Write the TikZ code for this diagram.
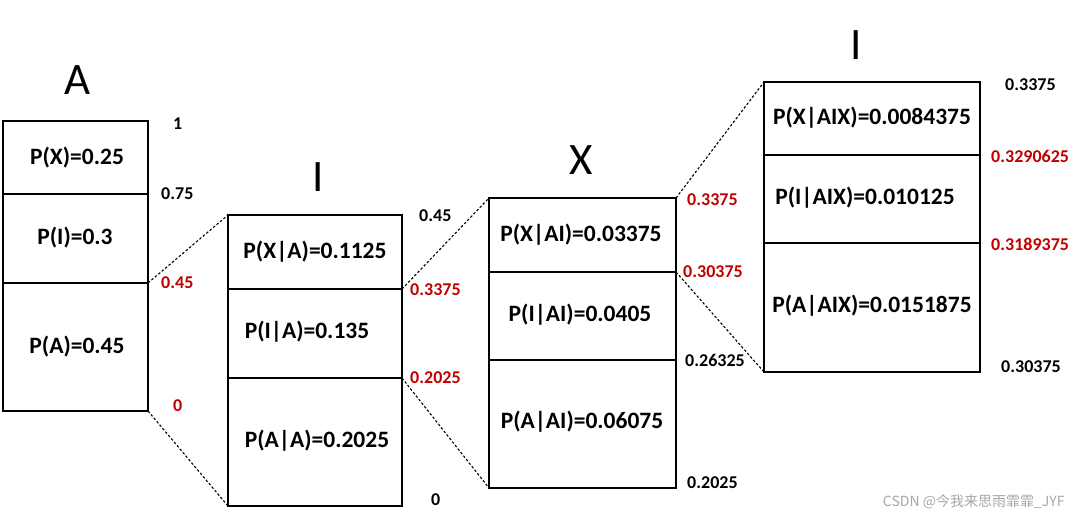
\documentclass[tikz,border=0pt]{standalone}
\usepackage{fontspec}
\setmainfont{Carlito}
\newfontfamily\cjk{Noto Sans CJK SC}
\definecolor{dred}{RGB}{192,0,0}
\begin{document}
\begin{tikzpicture}[x=1pt,y=-1pt,
  bx/.style={draw,line width=1.3pt},
  lbl/.style={font=\bfseries\fontsize{23.5}{26}\selectfont},
  val/.style={font=\bfseries\fontsize{18}{20}\selectfont,anchor=west,inner sep=1pt},
  rv/.style={val,text=dred},
  ttl/.style={font=\fontsize{45}{50}\selectfont},
  cn/.style={line width=1.1pt,dash pattern=on 2.5pt off 2pt}]
\useasboundingbox (0,0) rectangle (1081,521);
% box A
\draw[bx] (3,121) rectangle (148,411);
\draw[bx] (3,194) -- (148,194); \draw[bx] (3,283) -- (148,283);
\coordinate (a1) at (148,283); \coordinate (a2) at (148,411);
\node[ttl] (tA) at (78,80) {A};
\node[lbl] (pa1) at (77,158) {P(X)=0.25};
\node[lbl] (pa2) at (75,238) {P(I)=0.3};
\node[lbl] (pa3) at (77,347) {P(A)=0.45};
\node[val] (va1) at (172,124) {1};
\node[val] (va2) at (160,194) {0.75};
\node[rv] (va3) at (160,283) {0.45};
\node[rv] (va4) at (172,406) {0};
% box I
\draw[bx] (228,215) rectangle (402,506);
\draw[bx] (228,289) -- (402,289); \draw[bx] (228,378) -- (402,378);
\coordinate (b1) at (228,215); \coordinate (b2) at (228,506);
\coordinate (b3) at (402,289); \coordinate (b4) at (402,378);
\node[ttl] (tI) at (318,177) {I};
\node[lbl] (pb1) at (315,252) {P(X|A)=0.1125};
\node[lbl] (pb2) at (307,332) {P(I|A)=0.135};
\node[lbl] (pb3) at (317,441) {P(A|A)=0.2025};
\node[val] (vb1) at (418,216) {0.45};
\node[rv] (vb2) at (409,290) {0.3375};
\node[rv] (vb3) at (409,378) {0.2025};
\node[val] (vb4) at (430,500) {0};
% box X
\draw[bx] (489,198) rectangle (676,488);
\draw[bx] (489,272) -- (676,272); \draw[bx] (489,360) -- (676,360);
\coordinate (c1) at (489,198); \coordinate (c2) at (489,488);
\coordinate (c3) at (676,198); \coordinate (c4) at (676,272);
\node[ttl] (tX) at (581,160) {X};
\node[lbl] (pc1) at (581,235) {P(X|AI)=0.03375};
\node[lbl] (pc2) at (580,315) {P(I|AI)=0.0405};
\node[lbl] (pc3) at (582,422) {P(A|AI)=0.06075};
\node[rv] (vc1) at (686,200) {0.3375};
\node[rv] (vc2) at (682,272) {0.30375};
\node[val] (vc3) at (684,360) {0.26325};
\node[val] (vc4) at (686,483) {0.2025};
% box I2
\draw[bx] (764,82) rectangle (980,372);
\draw[bx] (764,155) -- (980,155); \draw[bx] (764,243) -- (980,243);
\coordinate (d1) at (764,82); \coordinate (d2) at (764,372);
\node[ttl] (tI2) at (856,45) {I};
\node[lbl] (pd1) at (872,118) {P(X|AIX)=0.0084375};
\node[lbl] (pd2) at (865,198) {P(I|AIX)=0.010125};
\node[lbl] (pd3) at (872,306) {P(A|AIX)=0.0151875};
\node[val] (vd1) at (1004,85) {0.3375};
\node[rv] (vd2) at (990,156) {0.3290625};
\node[rv] (vd3) at (990,244) {0.3189375};
\node[val] (vd4) at (1000,367) {0.30375};
% connectors
\draw[cn] (a1) -- (b1); \draw[cn] (a2) -- (b2);
\draw[cn] (b3) -- (c1); \draw[cn] (b4) -- (c2);
\draw[cn] (c3) -- (d1); \draw[cn] (c4) -- (d2);
\node[font=\cjk\fontsize{14}{16}\selectfont,text=gray!70,anchor=east] (wm) at (1068,502) {CSDN @今我来思雨霏霏\_JYF};
\end{tikzpicture}
\end{document}
